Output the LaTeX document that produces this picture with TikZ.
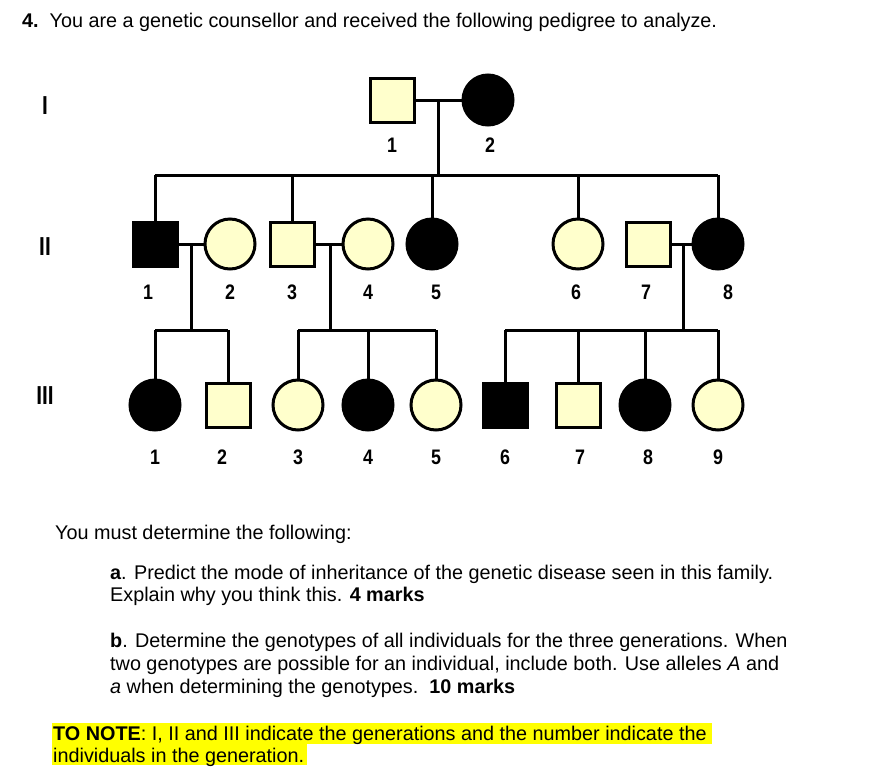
\documentclass[tikz,border=0pt]{standalone}
\usepackage{fontspec}
\setmainfont{Liberation Sans}
\definecolor{cream}{RGB}{255,255,204}
\definecolor{hl}{RGB}{255,255,0}
\begin{document}
\begin{tikzpicture}[x=1pt,y=-1pt,
  ln/.style={line width=3pt},
  sq/.style={draw,line width=3pt,minimum size=44pt,inner sep=0pt,fill=cream},
  ci/.style={circle,draw,line width=3pt,minimum size=50pt,inner sep=0pt,fill=cream},
  aff/.style={fill=black},
  num/.style={font=\fontsize{21}{21}\selectfont\bfseries,xscale=0.85},
  gen/.style={font=\fontsize{26}{26}\selectfont\bfseries,xscale=0.8},
  txt/.style={anchor=base west,font=\fontsize{19.8}{22}\selectfont,inner sep=0pt}]
\useasboundingbox (0,0) rectangle (872,769);
\fill[white] (0,0) rectangle (872,769);
\node[txt] (title) at (22,27) {\textbf{4.}\ \ You are a genetic counsellor and received the following pedigree to analyze.};
\node[gen] (g1) at (45,106) {I};
\node[gen] (g2) at (45,247) {II};
\node[gen] (g3) at (45,396) {III};
% Gen I
\node[sq] (i1) at (392,100) {};
\node[ci,aff] (i2) at (488,100) {};
\coordinate (m1) at (438,100);
\coordinate (s1) at (438,175);
\draw[ln] (i1) -- (i2);
\draw[ln] (m1) -- (s1);
\draw[ln] (155,175) -- (718,175);
\node[num] (l11) at (392,145) {1};
\node[num] (l12) at (490,145) {2};
% Gen II
\node[sq,aff] (a1) at (155,244) {};
\node[ci] (a2) at (230,244) {};
\node[sq] (a3) at (292,244) {};
\node[ci] (a4) at (368,244) {};
\node[ci,aff] (a5) at (432,244) {};
\node[ci] (a6) at (578,244) {};
\node[sq] (a7) at (648,244) {};
\node[ci,aff] (a8) at (718,244) {};
\foreach \n/\x in {a1/155,a3/292,a5/432,a6/578,a8/718}{\draw[ln] (\x,175) -- (\n.north);}
\draw[ln] (a1) -- (a2); \draw[ln] (a3) -- (a4); \draw[ln] (a7) -- (a8);
\draw[ln] (191,244) -- (191,330); \draw[ln] (155,330) -- (228,330);
\draw[ln] (330,244) -- (330,330); \draw[ln] (298,330) -- (436,330);
\draw[ln] (683,244) -- (683,330); \draw[ln] (505,330) -- (718,330);
\foreach \t/\x in {1/148,2/230,3/292,4/368,5/436,6/576,7/646,8/728}{\node[num] at (\x,292) {\t};}
% Gen III
\node[ci,aff] (b1) at (155,405) {};
\node[sq] (b2) at (228,405) {};
\node[ci] (b3) at (298,405) {};
\node[ci,aff] (b4) at (368,405) {};
\node[ci] (b5) at (436,405) {};
\node[sq,aff] (b6) at (505,405) {};
\node[sq] (b7) at (578,405) {};
\node[ci,aff] (b8) at (645,405) {};
\node[ci] (b9) at (718,405) {};
\foreach \n/\x in {b1/155,b2/228,b3/298,b4/368,b5/436,b6/505,b7/578,b8/645,b9/718}{\draw[ln] (\x,330) -- (\n.north);}
\foreach \t/\x in {1/155,2/222,3/298,4/368,5/436,6/505,7/580,8/648,9/718}{\node[num] at (\x,457) {\t};}
% text
\node[txt] (t1) at (55,539) {You must determine the following:};
\node[txt] (t2) at (110,579) {\textbf{a}. Predict the mode of inheritance of the genetic disease seen in this family.};
\node[txt] (t3) at (110,601) {Explain why you think this. \textbf{4 marks}};
\node[txt] (t4) at (110,647) {\textbf{b}. Determine the genotypes of all individuals for the three generations. When};
\node[txt] (t5) at (110,670) {two genotypes are possible for an individual, include both. Use alleles \textit{A} and};
\node[txt] (t6) at (110,693) {\textit{a} when determining the genotypes.\ \ \textbf{10 marks}};
\fill[hl] (52,723) rectangle (712,744);
\fill[hl] (52,744) rectangle (307,765);
\node[txt] (t7) at (53,740) {\textbf{TO NOTE}: I, II and III indicate the generations and the number indicate the};
\node[txt] (t8) at (53,762) {individuals in the generation.};
\end{tikzpicture}
\end{document}
